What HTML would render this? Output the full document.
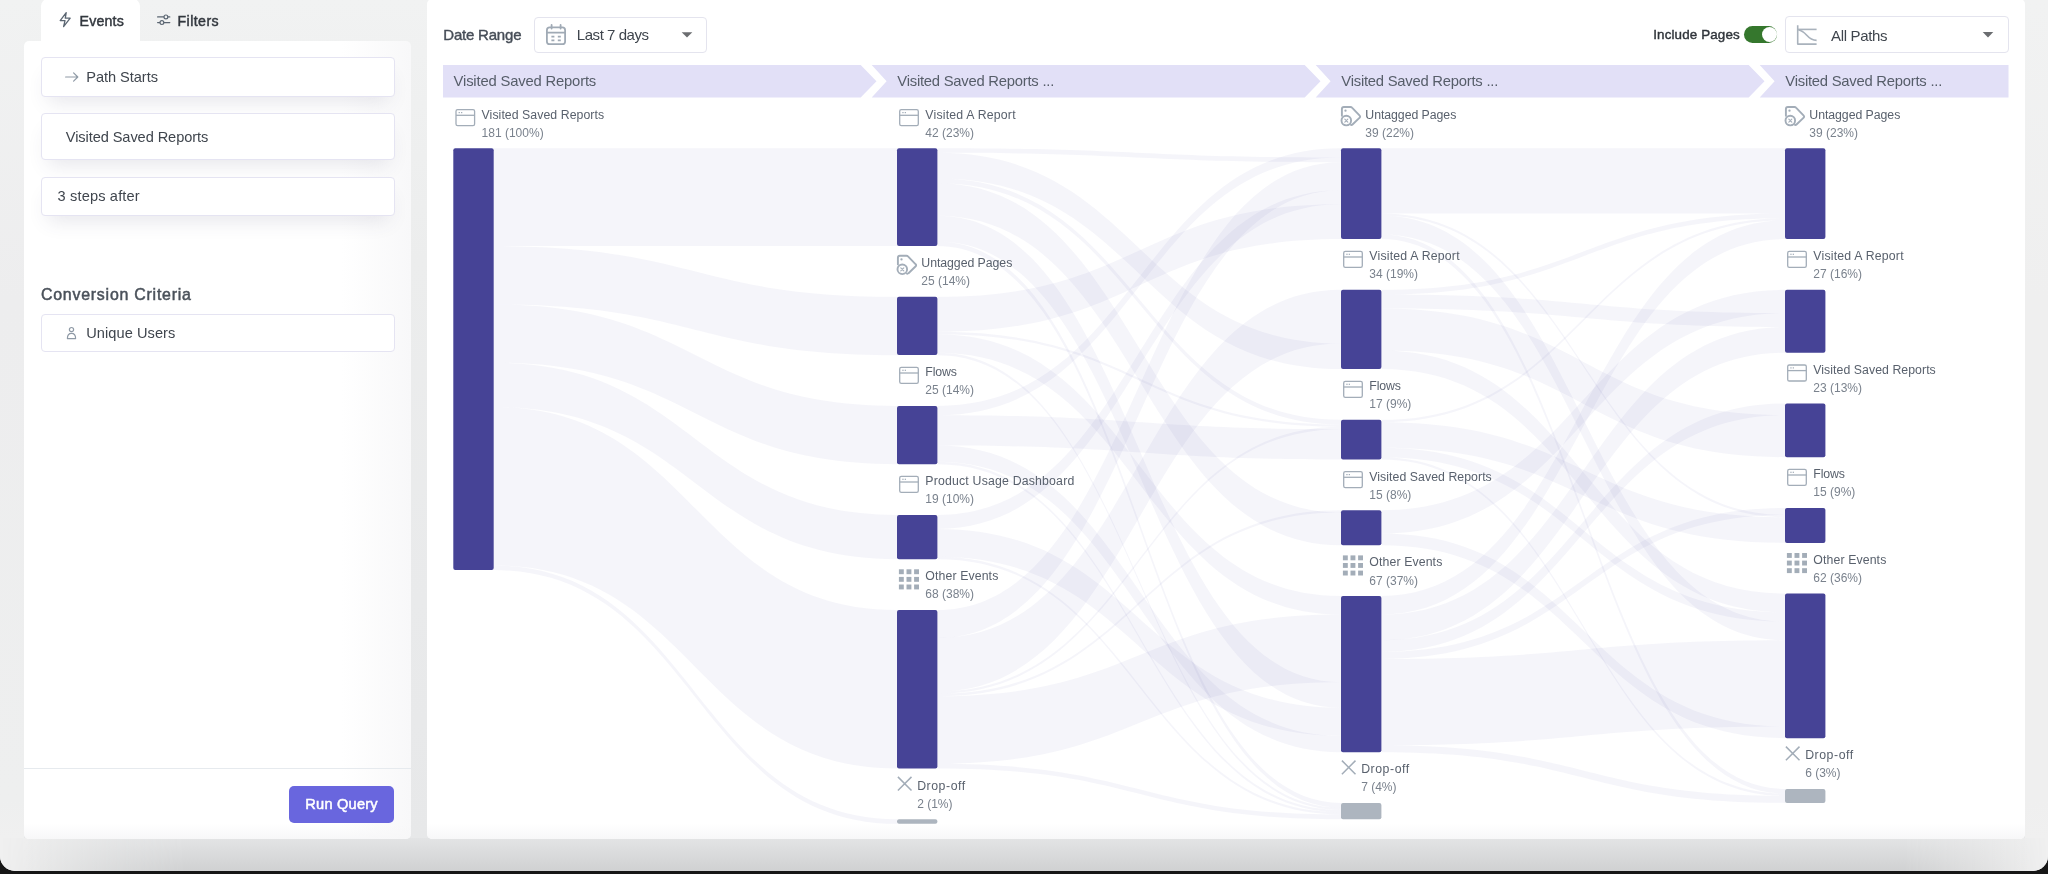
<!DOCTYPE html>
<html><head><meta charset="utf-8"><title>Paths</title>
<style>
*{box-sizing:border-box;margin:0;padding:0}
html,body{width:2048px;height:874px;overflow:hidden;background:#161616;font-family:"Liberation Sans",sans-serif;}
.abs{position:absolute}
.t{position:absolute;white-space:nowrap;font-family:"Liberation Sans",sans-serif;}
#screen{position:absolute;left:0;top:0;width:2048px;height:871px;background:linear-gradient(180deg,#f1f2f2 0,#eceded 260px,#e9eaeb 600px,#e7e8e9 838px);border-radius:0 0 15px 15px;overflow:hidden}
.box{position:absolute;background:#fff;border:1px solid #e5e4f2;border-radius:4px}
.shadow{box-shadow:0 12px 20px -7px rgba(60,60,100,0.13)}
</style></head>
<body>
<div id="screen">
<!-- background vignette -->
<div class="abs" style="left:0;top:0;width:24.3px;height:839px;background:linear-gradient(180deg,#f1f2f2 0,#ededee 300px,#eeefef 800px,#f0f0f0 839px)"></div>
<div class="abs" style="left:2025.3px;top:0;width:23px;height:839px;background:linear-gradient(180deg,#f1f2f2 0,#efefef 300px,#efefef 800px,#f0f0f0 839px)"></div>
<div class="abs" style="left:0;top:838px;width:2048px;height:33px;background:linear-gradient(90deg,#f0f0f0 0,#f0f0f0 24px,#e9eaea 120px,#e6e7e8 220px,#e6e7e8 1780px,#ececec 1950px,#f0f0f0 2030px)"></div>
<div class="abs" style="left:0;top:838px;width:2048px;height:33px;background:linear-gradient(180deg,#e3e4e5 0,#d0d1d2 100%);-webkit-mask-image:linear-gradient(90deg,transparent 0,#000 9%,#000 93%,transparent 100%);mask-image:linear-gradient(90deg,transparent 0,#000 9%,#000 93%,transparent 100%)"></div>

<!-- left panel -->
<div class="abs" style="left:41px;top:-1px;width:99.3px;height:47px;background:#fff;border-radius:7px 7px 0 0"></div>
<div class="abs" id="lp" style="left:24.3px;top:41px;width:386.5px;height:798px;background:linear-gradient(90deg,#fff 0,#fff 82%,#f8f8f9 100%);border-radius:5px"></div>
<div class="abs" style="left:24.3px;top:768px;width:386.5px;height:1px;background:#e6eaee"></div>
<div class="box shadow" style="left:40.5px;top:57.3px;width:354px;height:39.5px"></div>
<div class="box shadow" style="left:40.5px;top:113.2px;width:354px;height:47px"></div>
<div class="box shadow" style="left:40.5px;top:177px;width:354px;height:38.5px"></div>
<div class="box" style="left:40.5px;top:313.5px;width:354px;height:38.5px"></div>
<div class="abs" style="left:288.7px;top:786px;width:105.8px;height:36.5px;border-radius:5px;background:#6966de"></div>

<!-- main panel -->
<div class="abs" id="mp" style="left:427px;top:-1px;width:1598.3px;height:840px;background:#fff;border-radius:5px"></div>
<div class="box" style="left:534px;top:17px;width:172.7px;height:35.7px;border-color:#e4e4ee"></div>
<div class="box" style="left:1785px;top:16.2px;width:223.7px;height:36.5px;border-color:#e4e4ee"></div>
<div class="abs" style="left:24.3px;top:824px;width:386.5px;height:15px;border-radius:0 0 5px 5px;background:linear-gradient(180deg,rgba(248,248,249,0) 0,rgba(247,247,248,0.95) 100%)"></div>
<div class="abs" style="left:427px;top:824px;width:1598.3px;height:15px;border-radius:0 0 5px 5px;background:linear-gradient(180deg,rgba(248,248,249,0) 0,rgba(247,247,248,0.95) 100%)"></div>
<!-- toggle -->
<div class="abs" style="left:1744.2px;top:26.2px;width:32.8px;height:16.6px;border-radius:9px;background:#35772d"></div>
<div class="abs" style="left:1761.5px;top:27px;width:15px;height:15px;border-radius:50%;background:#fff"></div>
<!-- bottom fade inside panels -->

<svg class="abs" style="left:0;top:0" width="2048" height="874" viewBox="0 0 2048 874"><path d="M443,65.1L860.7,65.1L876.5,81.35L860.7,97.6L443,97.6Z" fill="#e2e0f7"/><path d="M871.7,65.1L1304.7,65.1L1320.5,81.35L1304.7,97.6L871.7,97.6L886.6,81.35Z" fill="#e2e0f7"/><path d="M1315.7,65.1L1748.7,65.1L1764.5,81.35L1748.7,97.6L1315.7,97.6L1330.6,81.35Z" fill="#e2e0f7"/><path d="M1759.7,65.1L2008.5,65.1L2008.5,97.6L1759.7,97.6L1774.6,81.35Z" fill="#e2e0f7"/><g stroke="none" fill="#5654ae" fill-opacity="0.06"><path d="M493.7,148.20C695.4,148.20 695.4,148.20 897.0,148.20V246.10C695.4,246.10 695.4,246.10 493.7,246.10Z"/><path d="M493.7,246.10C695.4,246.10 695.4,296.85 897.0,296.85V355.13C695.4,355.13 695.4,304.38 493.7,304.38Z"/><path d="M493.7,304.38C695.4,304.38 695.4,405.88 897.0,405.88V464.15C695.4,464.15 695.4,362.65 493.7,362.65Z"/><path d="M493.7,362.65C695.4,362.65 695.4,514.90 897.0,514.90V559.19C695.4,559.19 695.4,406.94 493.7,406.94Z"/><path d="M493.7,406.94C695.4,406.94 695.4,609.94 897.0,609.94V768.45C695.4,768.45 695.4,565.45 493.7,565.45Z"/><path d="M493.7,565.45C695.4,565.45 695.4,819.20 897.0,819.20V823.86C695.4,823.86 695.4,570.11 493.7,570.11Z"/><path d="M937.4,148.20C1139.2,148.20 1139.2,157.52 1341.0,157.52V162.19C1139.2,162.19 1139.2,152.86 937.4,152.86Z"/><path d="M937.4,152.86C1139.2,152.86 1139.2,343.47 1341.0,343.47V369.11C1139.2,369.11 1139.2,178.50 937.4,178.50Z"/><path d="M937.4,178.50C1139.2,178.50 1139.2,419.86 1341.0,419.86V424.52C1139.2,424.52 1139.2,183.16 937.4,183.16Z"/><path d="M937.4,183.16C1139.2,183.16 1139.2,512.57 1341.0,512.57V545.21C1139.2,545.21 1139.2,215.80 937.4,215.80Z"/><path d="M937.4,215.80C1139.2,215.80 1139.2,682.20 1341.0,682.20V707.84C1139.2,707.84 1139.2,241.44 937.4,241.44Z"/><path d="M937.4,241.44C1139.2,241.44 1139.2,802.88 1341.0,802.88V807.54C1139.2,807.54 1139.2,246.10 937.4,246.10Z"/><path d="M937.4,296.85C1139.2,296.85 1139.2,204.14 1341.0,204.14V239.11C1139.2,239.11 1139.2,331.82 937.4,331.82Z"/><path d="M937.4,331.82C1139.2,331.82 1139.2,424.52 1341.0,424.52V426.86C1139.2,426.86 1139.2,334.15 937.4,334.15Z"/><path d="M937.4,334.15C1139.2,334.15 1139.2,595.96 1341.0,595.96V614.60C1139.2,614.60 1139.2,352.80 937.4,352.80Z"/><path d="M937.4,352.80C1139.2,352.80 1139.2,807.54 1341.0,807.54V809.88C1139.2,809.88 1139.2,355.13 937.4,355.13Z"/><path d="M937.4,405.88C1139.2,405.88 1139.2,148.20 1341.0,148.20V157.52C1139.2,157.52 1139.2,415.20 937.4,415.20Z"/><path d="M937.4,415.20C1139.2,415.20 1139.2,429.19 1341.0,429.19V459.49C1139.2,459.49 1139.2,445.50 937.4,445.50Z"/><path d="M937.4,445.50C1139.2,445.50 1139.2,735.82 1341.0,735.82V752.13C1139.2,752.13 1139.2,461.82 937.4,461.82Z"/><path d="M937.4,461.82C1139.2,461.82 1139.2,809.88 1341.0,809.88V812.21C1139.2,812.21 1139.2,464.15 937.4,464.15Z"/><path d="M937.4,514.90C1139.2,514.90 1139.2,190.16 1341.0,190.16V204.14C1139.2,204.14 1139.2,528.89 937.4,528.89Z"/><path d="M937.4,528.89C1139.2,528.89 1139.2,707.84 1341.0,707.84V735.82C1139.2,735.82 1139.2,556.86 937.4,556.86Z"/><path d="M937.4,556.86C1139.2,556.86 1139.2,812.21 1341.0,812.21V814.54C1139.2,814.54 1139.2,559.19 937.4,559.19Z"/><path d="M937.4,609.94C1139.2,609.94 1139.2,162.19 1341.0,162.19V190.16C1139.2,190.16 1139.2,637.91 937.4,637.91Z"/><path d="M937.4,637.91C1139.2,637.91 1139.2,289.86 1341.0,289.86V343.47C1139.2,343.47 1139.2,691.53 937.4,691.53Z"/><path d="M937.4,691.53C1139.2,691.53 1139.2,426.86 1341.0,426.86V429.19C1139.2,429.19 1139.2,693.86 937.4,693.86Z"/><path d="M937.4,693.86C1139.2,693.86 1139.2,510.24 1341.0,510.24V512.57C1139.2,512.57 1139.2,696.19 937.4,696.19Z"/><path d="M937.4,696.19C1139.2,696.19 1139.2,614.60 1341.0,614.60V682.20C1139.2,682.20 1139.2,763.79 937.4,763.79Z"/><path d="M937.4,763.79C1139.2,763.79 1139.2,814.54 1341.0,814.54V819.20C1139.2,819.20 1139.2,768.45 937.4,768.45Z"/><path d="M1381.4,148.20C1583.2,148.20 1583.2,148.20 1785.0,148.20V213.47C1583.2,213.47 1583.2,213.47 1381.4,213.47Z"/><path d="M1381.4,213.47C1583.2,213.47 1583.2,514.90 1785.0,514.90V517.23C1583.2,517.23 1583.2,215.80 1381.4,215.80Z"/><path d="M1381.4,215.80C1583.2,215.80 1583.2,621.60 1785.0,621.60V640.24C1583.2,640.24 1583.2,234.45 1381.4,234.45Z"/><path d="M1381.4,234.45C1583.2,234.45 1583.2,788.90 1785.0,788.90V793.56C1583.2,793.56 1583.2,239.11 1381.4,239.11Z"/><path d="M1381.4,289.86C1583.2,289.86 1583.2,213.47 1785.0,213.47V218.13C1583.2,218.13 1583.2,294.52 1381.4,294.52Z"/><path d="M1381.4,294.52C1583.2,294.52 1583.2,313.17 1785.0,313.17V327.15C1583.2,327.15 1583.2,308.51 1381.4,308.51Z"/><path d="M1381.4,308.51C1583.2,308.51 1583.2,415.20 1785.0,415.20V457.16C1583.2,457.16 1583.2,350.46 1381.4,350.46Z"/><path d="M1381.4,350.46C1583.2,350.46 1583.2,593.62 1785.0,593.62V612.27C1583.2,612.27 1583.2,369.11 1381.4,369.11Z"/><path d="M1381.4,419.86C1583.2,419.86 1583.2,218.13 1785.0,218.13V220.46C1583.2,220.46 1583.2,422.19 1381.4,422.19Z"/><path d="M1381.4,422.19C1583.2,422.19 1583.2,517.23 1785.0,517.23V542.87C1583.2,542.87 1583.2,447.84 1381.4,447.84Z"/><path d="M1381.4,447.84C1583.2,447.84 1583.2,612.27 1785.0,612.27V621.60C1583.2,621.60 1583.2,457.16 1381.4,457.16Z"/><path d="M1381.4,457.16C1583.2,457.16 1583.2,793.56 1785.0,793.56V795.89C1583.2,795.89 1583.2,459.49 1381.4,459.49Z"/><path d="M1381.4,510.24C1583.2,510.24 1583.2,289.86 1785.0,289.86V313.17C1583.2,313.17 1583.2,533.55 1381.4,533.55Z"/><path d="M1381.4,533.55C1583.2,533.55 1583.2,726.49 1785.0,726.49V738.15C1583.2,738.15 1583.2,545.20 1381.4,545.20Z"/><path d="M1381.4,595.96C1583.2,595.96 1583.2,220.46 1785.0,220.46V239.11C1583.2,239.11 1583.2,614.60 1381.4,614.60Z"/><path d="M1381.4,614.60C1583.2,614.60 1583.2,327.15 1785.0,327.15V352.80C1583.2,352.80 1583.2,640.24 1381.4,640.24Z"/><path d="M1381.4,640.24C1583.2,640.24 1583.2,403.55 1785.0,403.55V415.20C1583.2,415.20 1583.2,651.90 1381.4,651.90Z"/><path d="M1381.4,651.90C1583.2,651.90 1583.2,507.91 1785.0,507.91V514.90C1583.2,514.90 1583.2,658.89 1381.4,658.89Z"/><path d="M1381.4,658.89C1583.2,658.89 1583.2,640.24 1785.0,640.24V726.49C1583.2,726.49 1583.2,745.14 1381.4,745.14Z"/><path d="M1381.4,745.14C1583.2,745.14 1583.2,795.89 1785.0,795.89V802.88C1583.2,802.88 1583.2,752.13 1381.4,752.13Z"/></g><rect x="453.3" y="148.20" width="40.4" height="421.91" rx="2" fill="#464396"/><rect x="897.0" y="148.20" width="40.4" height="97.90" rx="2" fill="#464396"/><rect x="897.0" y="296.85" width="40.4" height="58.27" rx="2" fill="#464396"/><rect x="897.0" y="405.88" width="40.4" height="58.27" rx="2" fill="#464396"/><rect x="897.0" y="514.90" width="40.4" height="44.29" rx="2" fill="#464396"/><rect x="897.0" y="609.94" width="40.4" height="158.51" rx="2" fill="#464396"/><rect x="897.0" y="819.20" width="40.4" height="4.66" rx="2" fill="#adb5bf"/><rect x="1341.0" y="148.20" width="40.4" height="90.91" rx="2" fill="#464396"/><rect x="1341.0" y="289.86" width="40.4" height="79.25" rx="2" fill="#464396"/><rect x="1341.0" y="419.86" width="40.4" height="39.63" rx="2" fill="#464396"/><rect x="1341.0" y="510.24" width="40.4" height="34.97" rx="2" fill="#464396"/><rect x="1341.0" y="595.96" width="40.4" height="156.18" rx="2" fill="#464396"/><rect x="1341.0" y="802.88" width="40.4" height="16.32" rx="2" fill="#adb5bf"/><rect x="1785.0" y="148.20" width="40.4" height="90.91" rx="2" fill="#464396"/><rect x="1785.0" y="289.86" width="40.4" height="62.94" rx="2" fill="#464396"/><rect x="1785.0" y="403.55" width="40.4" height="53.61" rx="2" fill="#464396"/><rect x="1785.0" y="507.91" width="40.4" height="34.97" rx="2" fill="#464396"/><rect x="1785.0" y="593.62" width="40.4" height="144.52" rx="2" fill="#464396"/><rect x="1785.0" y="788.90" width="40.4" height="13.99" rx="2" fill="#adb5bf"/><g fill="none" stroke="#a3adb8" stroke-width="1.3"><rect x="456.0" y="109.7" width="18.6" height="16" rx="1.6"/><path d="M456.0,115.3h18.6"/></g><g fill="#a3adb8"><rect x="458.6" y="112.0" width="1.3" height="1.2"/><rect x="461.0" y="112.0" width="1.3" height="1.2"/></g><g fill="none" stroke="#a3adb8" stroke-width="1.3"><rect x="899.7" y="109.7" width="18.6" height="16" rx="1.6"/><path d="M899.7,115.3h18.6"/></g><g fill="#a3adb8"><rect x="902.3" y="112.0" width="1.3" height="1.2"/><rect x="904.7" y="112.0" width="1.3" height="1.2"/></g><g fill="none" stroke="#a3adb8" stroke-width="1.9" stroke-linejoin="round" stroke-linecap="round"><path d="M897.9,264.4V257.7a2,2 0 0 1 2,-2H906.5a2,2 0 0 1 1.5,.7L915.7,264.3a1.4,1.4 0 0 1 0,2L908.5,273.2a1.6,1.6 0 0 1 -1.6,.4"/><circle cx="902.3" cy="269.3" r="4.8"/><path d="M900.8,267.8l3,3M903.8,267.8l-3,3" stroke-width="1.1"/></g><circle cx="901.5" cy="259.4" r="1.15" fill="#a3adb8"/><g fill="none" stroke="#a3adb8" stroke-width="1.3"><rect x="899.7" y="367.4" width="18.6" height="16" rx="1.6"/><path d="M899.7,373.0h18.6"/></g><g fill="#a3adb8"><rect x="902.3" y="369.7" width="1.3" height="1.2"/><rect x="904.7" y="369.7" width="1.3" height="1.2"/></g><g fill="none" stroke="#a3adb8" stroke-width="1.3"><rect x="899.7" y="476.4" width="18.6" height="16" rx="1.6"/><path d="M899.7,482.0h18.6"/></g><g fill="#a3adb8"><rect x="902.3" y="478.7" width="1.3" height="1.2"/><rect x="904.7" y="478.7" width="1.3" height="1.2"/></g><g fill="#a3adb8"><rect x="898.9" y="569.3" width="4.9" height="4.9"/><rect x="906.5" y="569.3" width="4.9" height="4.9"/><rect x="914.1" y="569.3" width="4.9" height="4.9"/><rect x="898.9" y="576.9" width="4.9" height="4.9"/><rect x="906.5" y="576.9" width="4.9" height="4.9"/><rect x="914.1" y="576.9" width="4.9" height="4.9"/><rect x="898.9" y="584.5" width="4.9" height="4.9"/><rect x="906.5" y="584.5" width="4.9" height="4.9"/><rect x="914.1" y="584.5" width="4.9" height="4.9"/></g><path d="M897.9,776.9l13.6,13.6M911.5,776.9l-13.6,13.6" stroke="#a3adb8" stroke-width="1.5" fill="none"/><g fill="none" stroke="#a3adb8" stroke-width="1.9" stroke-linejoin="round" stroke-linecap="round"><path d="M1341.9,115.7V109.0a2,2 0 0 1 2,-2H1350.5a2,2 0 0 1 1.5,.7L1359.7,115.6a1.4,1.4 0 0 1 0,2L1352.5,124.5a1.6,1.6 0 0 1 -1.6,.4"/><circle cx="1346.3" cy="120.6" r="4.8"/><path d="M1344.8,119.1l3,3M1347.8,119.1l-3,3" stroke-width="1.1"/></g><circle cx="1345.5" cy="110.7" r="1.15" fill="#a3adb8"/><g fill="none" stroke="#a3adb8" stroke-width="1.3"><rect x="1343.7" y="251.4" width="18.6" height="16" rx="1.6"/><path d="M1343.7,257.0h18.6"/></g><g fill="#a3adb8"><rect x="1346.3" y="253.7" width="1.3" height="1.2"/><rect x="1348.7" y="253.7" width="1.3" height="1.2"/></g><g fill="none" stroke="#a3adb8" stroke-width="1.3"><rect x="1343.7" y="381.4" width="18.6" height="16" rx="1.6"/><path d="M1343.7,387.0h18.6"/></g><g fill="#a3adb8"><rect x="1346.3" y="383.7" width="1.3" height="1.2"/><rect x="1348.7" y="383.7" width="1.3" height="1.2"/></g><g fill="none" stroke="#a3adb8" stroke-width="1.3"><rect x="1343.7" y="471.7" width="18.6" height="16" rx="1.6"/><path d="M1343.7,477.3h18.6"/></g><g fill="#a3adb8"><rect x="1346.3" y="474.0" width="1.3" height="1.2"/><rect x="1348.7" y="474.0" width="1.3" height="1.2"/></g><g fill="#a3adb8"><rect x="1342.9" y="555.4" width="4.9" height="4.9"/><rect x="1350.5" y="555.4" width="4.9" height="4.9"/><rect x="1358.1" y="555.4" width="4.9" height="4.9"/><rect x="1342.9" y="563.0" width="4.9" height="4.9"/><rect x="1350.5" y="563.0" width="4.9" height="4.9"/><rect x="1358.1" y="563.0" width="4.9" height="4.9"/><rect x="1342.9" y="570.6" width="4.9" height="4.9"/><rect x="1350.5" y="570.6" width="4.9" height="4.9"/><rect x="1358.1" y="570.6" width="4.9" height="4.9"/></g><path d="M1341.9,760.6l13.6,13.6M1355.5,760.6l-13.6,13.6" stroke="#a3adb8" stroke-width="1.5" fill="none"/><g fill="none" stroke="#a3adb8" stroke-width="1.9" stroke-linejoin="round" stroke-linecap="round"><path d="M1785.9,115.7V109.0a2,2 0 0 1 2,-2H1794.5a2,2 0 0 1 1.5,.7L1803.7,115.6a1.4,1.4 0 0 1 0,2L1796.5,124.5a1.6,1.6 0 0 1 -1.6,.4"/><circle cx="1790.3" cy="120.6" r="4.8"/><path d="M1788.8,119.1l3,3M1791.8,119.1l-3,3" stroke-width="1.1"/></g><circle cx="1789.5" cy="110.7" r="1.15" fill="#a3adb8"/><g fill="none" stroke="#a3adb8" stroke-width="1.3"><rect x="1787.7" y="251.4" width="18.6" height="16" rx="1.6"/><path d="M1787.7,257.0h18.6"/></g><g fill="#a3adb8"><rect x="1790.3" y="253.7" width="1.3" height="1.2"/><rect x="1792.7" y="253.7" width="1.3" height="1.2"/></g><g fill="none" stroke="#a3adb8" stroke-width="1.3"><rect x="1787.7" y="365.0" width="18.6" height="16" rx="1.6"/><path d="M1787.7,370.6h18.6"/></g><g fill="#a3adb8"><rect x="1790.3" y="367.3" width="1.3" height="1.2"/><rect x="1792.7" y="367.3" width="1.3" height="1.2"/></g><g fill="none" stroke="#a3adb8" stroke-width="1.3"><rect x="1787.7" y="469.4" width="18.6" height="16" rx="1.6"/><path d="M1787.7,475.0h18.6"/></g><g fill="#a3adb8"><rect x="1790.3" y="471.7" width="1.3" height="1.2"/><rect x="1792.7" y="471.7" width="1.3" height="1.2"/></g><g fill="#a3adb8"><rect x="1786.9" y="553.0" width="4.9" height="4.9"/><rect x="1794.5" y="553.0" width="4.9" height="4.9"/><rect x="1802.1" y="553.0" width="4.9" height="4.9"/><rect x="1786.9" y="560.6" width="4.9" height="4.9"/><rect x="1794.5" y="560.6" width="4.9" height="4.9"/><rect x="1802.1" y="560.6" width="4.9" height="4.9"/><rect x="1786.9" y="568.2" width="4.9" height="4.9"/><rect x="1794.5" y="568.2" width="4.9" height="4.9"/><rect x="1802.1" y="568.2" width="4.9" height="4.9"/></g><path d="M1785.9,746.6l13.6,13.6M1799.5,746.6l-13.6,13.6" stroke="#a3adb8" stroke-width="1.5" fill="none"/></svg>
<svg class="abs" style="left:0;top:0" width="2048" height="874" viewBox="0 0 2048 874" fill="none" stroke-linecap="round" stroke-linejoin="round">
<!-- lightning -->
<path d="M66.2,12.6L60.2,20.6H65L63.6,26.6L70.2,18.2H65.3Z" stroke="#5b6672" stroke-width="1.3"/>
<!-- sliders -->
<g stroke="#5b6672" stroke-width="1.2"><path d="M157.6,16.9H163.6M168.2,16.9H169.8M157.6,22.6H159.6M164.2,22.6H169.8"/><circle cx="165.9" cy="16.9" r="1.9"/><circle cx="161.9" cy="22.6" r="1.9"/></g>
<!-- arrow -->
<path d="M65.6,77H77.6M73.6,72.8L77.8,77L73.6,81.2" stroke="#8f9aa6" stroke-width="1.2"/>
<!-- user -->
<g stroke="#8f9aa6" stroke-width="1.2"><circle cx="71.5" cy="329.6" r="2.1"/><path d="M67.4,338.6C67.4,334.6 69.4,333.4 71.5,333.4C73.6,333.4 75.6,334.6 75.6,338.6Z"/></g>
<!-- calendar -->
<g stroke="#a0aab5" stroke-width="1.8"><rect x="546.9" y="27.4" width="18.2" height="16.8" rx="2.8"/><path d="M546.8,32.6H565.2M551.6,25V28.6M560.6,25V28.6"/><path d="M551.4,36.6H554.4M557.8,36.6H560.8M551.4,40.4H554.4M557.8,40.4H560.8" stroke-width="1.7" stroke-linecap="butt"/></g>
<!-- carets -->
<path d="M681.7,32.2H692.3L687,37.6Z" fill="#6b6d70" stroke="none"/>
<path d="M1982.7,32H1993.3L1988,37.4Z" fill="#6b6d70" stroke="none"/>
<!-- all paths icon -->
<g stroke="#a9b2bc" stroke-width="1.6" stroke-linecap="butt"><path d="M1797.7,25.2V44.1H1816.6"/><path d="M1797.7,29.4H1816.6"/><path d="M1798.4,30C1807,31 1806.5,40.4 1816.6,40.4"/></g>
</svg>
<div id="txt" style="position:absolute;left:0;top:0;width:2048px;height:871px;will-change:transform">
<div class="t" style="left:481.60px;top:106.74px;font-size:12.3px;line-height:17px;color:#59616d;letter-spacing:0.051px;">Visited Saved Reports</div>
<div class="t" style="left:481.60px;top:124.74px;font-size:12px;line-height:17px;color:#7a828d;letter-spacing:0.000px;">181 (100%)</div>
<div class="t" style="left:925.30px;top:106.74px;font-size:12.3px;line-height:17px;color:#59616d;letter-spacing:0.200px;">Visited A Report</div>
<div class="t" style="left:925.30px;top:124.74px;font-size:12px;line-height:17px;color:#7a828d;letter-spacing:0.000px;">42 (23%)</div>
<div class="t" style="left:921.30px;top:255.39px;font-size:12.3px;line-height:17px;color:#59616d;letter-spacing:-0.049px;">Untagged Pages</div>
<div class="t" style="left:921.30px;top:273.39px;font-size:12px;line-height:17px;color:#7a828d;letter-spacing:0.000px;">25 (14%)</div>
<div class="t" style="left:925.30px;top:364.42px;font-size:12.3px;line-height:17px;color:#59616d;letter-spacing:-0.155px;">Flows</div>
<div class="t" style="left:925.30px;top:382.42px;font-size:12px;line-height:17px;color:#7a828d;letter-spacing:0.000px;">25 (14%)</div>
<div class="t" style="left:925.30px;top:473.44px;font-size:12.3px;line-height:17px;color:#59616d;letter-spacing:0.184px;">Product Usage Dashboard</div>
<div class="t" style="left:925.30px;top:491.44px;font-size:12px;line-height:17px;color:#7a828d;letter-spacing:0.000px;">19 (10%)</div>
<div class="t" style="left:925.30px;top:568.48px;font-size:12.3px;line-height:17px;color:#59616d;letter-spacing:0.111px;">Other Events</div>
<div class="t" style="left:925.30px;top:586.48px;font-size:12px;line-height:17px;color:#7a828d;letter-spacing:0.000px;">68 (38%)</div>
<div class="t" style="left:917.20px;top:777.74px;font-size:12.3px;line-height:17px;color:#59616d;letter-spacing:0.541px;">Drop-off</div>
<div class="t" style="left:917.20px;top:795.74px;font-size:12px;line-height:17px;color:#7a828d;letter-spacing:0.000px;">2 (1%)</div>
<div class="t" style="left:1365.30px;top:106.74px;font-size:12.3px;line-height:17px;color:#59616d;letter-spacing:-0.049px;">Untagged Pages</div>
<div class="t" style="left:1365.30px;top:124.74px;font-size:12px;line-height:17px;color:#7a828d;letter-spacing:0.000px;">39 (22%)</div>
<div class="t" style="left:1369.30px;top:248.40px;font-size:12.3px;line-height:17px;color:#59616d;letter-spacing:0.200px;">Visited A Report</div>
<div class="t" style="left:1369.30px;top:266.40px;font-size:12px;line-height:17px;color:#7a828d;letter-spacing:0.000px;">34 (19%)</div>
<div class="t" style="left:1369.30px;top:378.40px;font-size:12.3px;line-height:17px;color:#59616d;letter-spacing:-0.155px;">Flows</div>
<div class="t" style="left:1369.30px;top:396.40px;font-size:12px;line-height:17px;color:#7a828d;letter-spacing:0.000px;">17 (9%)</div>
<div class="t" style="left:1369.30px;top:468.78px;font-size:12.3px;line-height:17px;color:#59616d;letter-spacing:0.051px;">Visited Saved Reports</div>
<div class="t" style="left:1369.30px;top:486.78px;font-size:12px;line-height:17px;color:#7a828d;letter-spacing:0.000px;">15 (8%)</div>
<div class="t" style="left:1369.30px;top:554.49px;font-size:12.3px;line-height:17px;color:#59616d;letter-spacing:0.111px;">Other Events</div>
<div class="t" style="left:1369.30px;top:572.50px;font-size:12px;line-height:17px;color:#7a828d;letter-spacing:0.000px;">67 (37%)</div>
<div class="t" style="left:1361.20px;top:761.42px;font-size:12.3px;line-height:17px;color:#59616d;letter-spacing:0.541px;">Drop-off</div>
<div class="t" style="left:1361.20px;top:779.42px;font-size:12px;line-height:17px;color:#7a828d;letter-spacing:0.000px;">7 (4%)</div>
<div class="t" style="left:1809.30px;top:106.74px;font-size:12.3px;line-height:17px;color:#59616d;letter-spacing:-0.049px;">Untagged Pages</div>
<div class="t" style="left:1809.30px;top:124.74px;font-size:12px;line-height:17px;color:#7a828d;letter-spacing:0.000px;">39 (23%)</div>
<div class="t" style="left:1813.30px;top:248.40px;font-size:12.3px;line-height:17px;color:#59616d;letter-spacing:0.200px;">Visited A Report</div>
<div class="t" style="left:1813.30px;top:266.40px;font-size:12px;line-height:17px;color:#7a828d;letter-spacing:0.000px;">27 (16%)</div>
<div class="t" style="left:1813.30px;top:362.08px;font-size:12.3px;line-height:17px;color:#59616d;letter-spacing:0.051px;">Visited Saved Reports</div>
<div class="t" style="left:1813.30px;top:380.09px;font-size:12px;line-height:17px;color:#7a828d;letter-spacing:0.000px;">23 (13%)</div>
<div class="t" style="left:1813.30px;top:466.45px;font-size:12.3px;line-height:17px;color:#59616d;letter-spacing:-0.155px;">Flows</div>
<div class="t" style="left:1813.30px;top:484.45px;font-size:12px;line-height:17px;color:#7a828d;letter-spacing:0.000px;">15 (9%)</div>
<div class="t" style="left:1813.30px;top:552.16px;font-size:12.3px;line-height:17px;color:#59616d;letter-spacing:0.111px;">Other Events</div>
<div class="t" style="left:1813.30px;top:570.17px;font-size:12px;line-height:17px;color:#7a828d;letter-spacing:0.000px;">62 (36%)</div>
<div class="t" style="left:1805.20px;top:747.43px;font-size:12.3px;line-height:17px;color:#59616d;letter-spacing:0.541px;">Drop-off</div>
<div class="t" style="left:1805.20px;top:765.44px;font-size:12px;line-height:17px;color:#7a828d;letter-spacing:0.000px;">6 (3%)</div>
<div class="t" style="left:453.60px;top:70.67px;font-size:14.8px;line-height:21px;color:#565d69;letter-spacing:-0.173px;">Visited Saved Reports</div>
<div class="t" style="left:897.30px;top:70.67px;font-size:14.8px;line-height:21px;color:#565d69;letter-spacing:-0.234px;">Visited Saved Reports ...</div>
<div class="t" style="left:1341.30px;top:70.67px;font-size:14.8px;line-height:21px;color:#565d69;letter-spacing:-0.234px;">Visited Saved Reports ...</div>
<div class="t" style="left:1785.30px;top:70.67px;font-size:14.8px;line-height:21px;color:#565d69;letter-spacing:-0.234px;">Visited Saved Reports ...</div>
<div class="t" style="left:79.50px;top:10.68px;font-size:14.2px;line-height:20px;color:#32373e;letter-spacing:0.178px;-webkit-text-stroke:0.45px #32373e;">Events</div>
<div class="t" style="left:177.50px;top:10.68px;font-size:14.2px;line-height:20px;color:#32373e;letter-spacing:0.424px;-webkit-text-stroke:0.45px #32373e;">Filters</div>
<div class="t" style="left:86.20px;top:67.14px;font-size:14.6px;line-height:20px;color:#3f454d;letter-spacing:-0.042px;">Path Starts</div>
<div class="t" style="left:65.80px;top:126.54px;font-size:14.6px;line-height:20px;color:#3f454d;letter-spacing:-0.084px;">Visited Saved Reports</div>
<div class="t" style="left:57.60px;top:186.34px;font-size:14.6px;line-height:20px;color:#3f454d;letter-spacing:0.146px;">3 steps after</div>
<div class="t" style="left:41.00px;top:283.79px;font-size:15.9px;line-height:22px;color:#4a515a;letter-spacing:0.773px;-webkit-text-stroke:0.5px #4a515a;">Conversion Criteria</div>
<div class="t" style="left:86.20px;top:323.34px;font-size:14.6px;line-height:20px;color:#3f454d;letter-spacing:0.068px;">Unique Users</div>
<div class="t" style="left:305.30px;top:794.44px;font-size:14.6px;line-height:20px;color:#ffffff;letter-spacing:0.225px;-webkit-text-stroke:0.5px #ffffff;">Run Query</div>
<div class="t" style="left:443.30px;top:24.20px;font-size:15px;line-height:21px;color:#464d57;letter-spacing:-0.207px;-webkit-text-stroke:0.4px #464d57;">Date Range</div>
<div class="t" style="left:576.80px;top:24.20px;font-size:15px;line-height:21px;color:#3f454d;letter-spacing:-0.452px;">Last 7 days</div>
<div class="t" style="left:1653.20px;top:25.26px;font-size:13.4px;line-height:19px;color:#2f343a;letter-spacing:0.139px;-webkit-text-stroke:0.4px #2f343a;">Include Pages</div>
<div class="t" style="left:1831.00px;top:24.70px;font-size:15px;line-height:21px;color:#3f454d;letter-spacing:-0.337px;">All Paths</div>
</div>
</div>
</body></html>
